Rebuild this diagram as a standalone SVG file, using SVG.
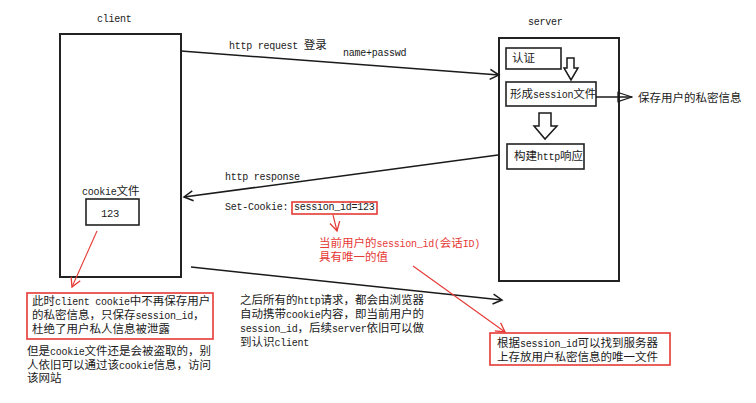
<svg xmlns="http://www.w3.org/2000/svg" width="756" height="403" viewBox="0 0 756 403">
<defs>
<style>
text{font-family:"Noto Sans CJK SC","Noto Sans CJK JP",sans-serif;font-size:11.5px;fill:#1a1a1a}
.a{font-family:"Liberation Mono","DejaVu Sans Mono",monospace;font-size:10px;letter-spacing:-0.25px}
.r{fill:#e53935}
.box{fill:#fff;stroke:#222;stroke-width:2}
.ibox{fill:#fff;stroke:#222;stroke-width:1.6}
.rbox{fill:none;stroke:#e53935;stroke-width:1.6}
.ln{fill:none;stroke:#1a1a1a;stroke-width:1.5}
.rln{fill:none;stroke:#e53935;stroke-width:1.1}
.blk{fill:#fff;stroke:#1a1a1a;stroke-width:1.5;stroke-linejoin:miter}
</style>
<marker id="ah" markerUnits="userSpaceOnUse" markerWidth="14" markerHeight="14" viewBox="0 0 14 14" refX="12" refY="7" orient="auto">
<path d="M3,2 L12,7 L3,12" fill="none" stroke="#1a1a1a" stroke-width="1.5"/>
</marker>
<marker id="aw" markerUnits="userSpaceOnUse" markerWidth="16" markerHeight="12" viewBox="0 0 16 12" refX="15" refY="6" orient="auto">
<path d="M1,1.5 L15,6 L1,10.5 Z" fill="none" stroke="#1a1a1a" stroke-width="1.3"/>
</marker>
<marker id="rh" markerUnits="userSpaceOnUse" markerWidth="14" markerHeight="14" viewBox="0 0 14 14" refX="12" refY="7" orient="auto">
<path d="M3,2 L12,7 L3,12" fill="none" stroke="#e53935" stroke-width="1.3"/>
</marker>
</defs>

<g id="client">
<text x="97" y="22" class="a">client</text>
<rect class="box" x="60" y="34" width="121" height="243"/>
</g>
<g id="server">
<text x="528" y="25" class="a">server</text>
<rect class="box" x="499" y="38" width="120" height="243"/>
</g>
<g id="auth">
<rect class="ibox" x="506" y="48" width="55" height="21"/>
<text x="512" y="62">认证</text>
</g>
<g id="session-file">
<rect class="ibox" x="506" y="82" width="90" height="24"/>
<text x="510" y="98">形成<tspan class="a">session</tspan>文件</text>
</g>
<g id="build-response">
<rect class="ibox" x="507" y="144" width="77" height="25"/>
<text x="514" y="160">构建<tspan class="a">http</tspan>响应</text>
</g>
<g id="private-info">
<text x="638" y="102">保存用户的私密信息</text>
</g>
<g id="cookie-file">
<text x="82" y="195"><tspan class="a">cookie</tspan>文件</text>
<rect class="ibox" x="86" y="199" width="53" height="26"/>
<text x="101" y="217" class="a" style="font-size:10.5px">123</text>
</g>
<g id="request-label">
<text x="229" y="49"><tspan class="a">http request </tspan>登录</text>
<text x="343" y="56" class="a">name+passwd</text>
</g>
<g id="response-label">
<text x="225" y="180" class="a">http response</text>
<text x="225" y="210" class="a">Set-Cookie: session_id=123</text>
<rect class="rbox" x="292" y="202" width="85" height="12"/>
</g>
<g id="session-id-note">
<text x="319" y="247" class="r">当前用户的<tspan class="a r">session_id(</tspan>会话<tspan class="a r">ID)</tspan></text>
<text x="319" y="261" class="r">具有唯一的值</text>
</g>
<g id="client-note">
<rect class="rbox" x="27" y="293" width="186" height="46"/>
<text x="32" y="305">此时<tspan class="a">client cookie</tspan>中不再保存用户</text>
<text x="32" y="319">的私密信息，只保存<tspan class="a">session_id</tspan>，</text>
<text x="32" y="333">杜绝了用户私人信息被泄露</text>
</g>
<g id="steal-note">
<text x="27" y="355">但是<tspan class="a">cookie</tspan>文件还是会被盗取的，别</text>
<text x="27" y="368.5">人依旧可以通过该<tspan class="a">cookie</tspan>信息，访问</text>
<text x="27" y="382">该网站</text>
</g>
<g id="later-note">
<text x="240" y="304">之后所有的<tspan class="a">http</tspan>请求，都会由浏览器</text>
<text x="240" y="318">自动携带<tspan class="a">cookie</tspan>内容，即当前用户的</text>
<text x="240" y="332"><tspan class="a">session_id</tspan>，后续<tspan class="a">server</tspan>依旧可以做</text>
<text x="240" y="346">到认识<tspan class="a">client</tspan></text>
</g>
<g id="server-note">
<rect class="rbox" x="490" y="333" width="180" height="32"/>
<text x="497" y="347">根据<tspan class="a">session_id</tspan>可以找到服务器</text>
<text x="497" y="361">上存放用户私密信息的唯一文件</text>
</g>

<g id="connectors">
<line class="ln" x1="181" y1="51" x2="499" y2="75" marker-end="url(#ah)"/>
<line class="ln" x1="498" y1="155" x2="184" y2="197" marker-end="url(#ah)"/>
<line class="ln" x1="191" y1="267" x2="502" y2="300" marker-end="url(#ah)"/>
<line class="ln" x1="596" y1="97" x2="632" y2="97" marker-end="url(#aw)"/>
<polygon class="blk" points="567,58 574,58 574,68 578,68 571,80 564,68 567,68"/>
<polygon class="blk" points="539,113 551,113 551,126 557,126 545,139 534,126 539,126"/>
<line class="rln" x1="97" y1="231" x2="72" y2="287" marker-end="url(#rh)"/>
<line class="rln" x1="333" y1="215" x2="337" y2="231" marker-end="url(#rh)"/>
<line class="rln" x1="413" y1="266" x2="505" y2="332" marker-end="url(#rh)"/>
</g>
</svg>
